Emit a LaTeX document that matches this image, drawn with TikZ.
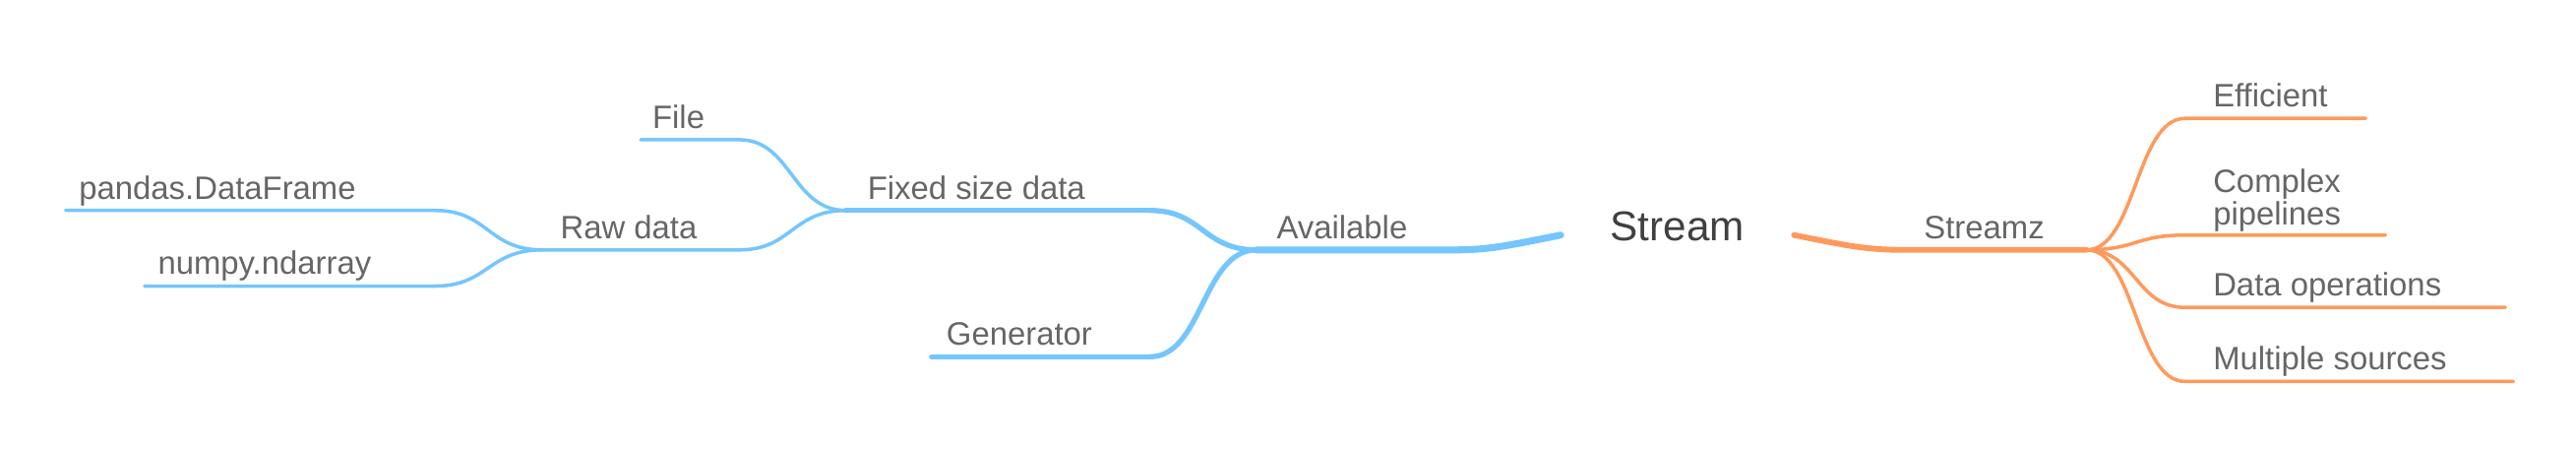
\documentclass[tikz,border=0pt]{standalone}
\usepackage{fontspec}
\setmainfont{Liberation Sans}
\definecolor{bl}{HTML}{74C6FE}
\definecolor{orn}{HTML}{FF9A5C}
\definecolor{txt}{HTML}{666666}
\begin{document}
\begin{tikzpicture}[x=0.05cm,y=-0.05cm,
  lbl/.style={anchor=base west,inner sep=0pt,text=txt,font=\fontsize{28}{32}\selectfont},
  bth/.style={draw=bl,line width=3pt,line cap=round},
  bmd/.style={draw=bl,line width=4.5pt,line cap=round},
  btk/.style={draw=bl,line width=6pt,line cap=round},
  oth/.style={draw=orn,line width=3pt,line cap=round},
  otk/.style={draw=orn,line width=5pt,line cap=round}]
\useasboundingbox (0,0) rectangle (1568,273);
\node[anchor=center,inner sep=0pt,text=black!75,font=\fontsize{36}{40}\selectfont] (stream) at (1021,138) {Stream};
% coordinates
\coordinate (sL) at (950,143); \coordinate (tk) at (885,152); \coordinate (av) at (765,152);
\coordinate (fsR) at (700,128); \coordinate (fs) at (515,128);
\coordinate (geR) at (700,217); \coordinate (geL) at (567,217);
\coordinate (fiR) at (450,85); \coordinate (fiL) at (390,85);
\coordinate (rdR) at (450,152); \coordinate (rd) at (330,152);
\coordinate (paR) at (265,128); \coordinate (paL) at (40,128);
\coordinate (nuR) at (265,174); \coordinate (nuL) at (88,174);
\coordinate (sR) at (1092,143); \coordinate (szL) at (1160,152); \coordinate (sz) at (1270,152);
\coordinate (efL) at (1330,72); \coordinate (efR) at (1440,72);
\coordinate (cpL) at (1330,143); \coordinate (cpR) at (1452,143);
\coordinate (doL) at (1330,187); \coordinate (doR) at (1525,187);
\coordinate (msL) at (1330,232); \coordinate (msR) at (1530,232);
% labels
\node[lbl] (lav) at (777,145) {Available};
\node[lbl] (lfs) at (528,121) {Fixed size data};
\node[lbl] (lge) at (576,210) {Generator};
\node[lbl] (lfi) at (397,78) {File};
\node[lbl] (lrd) at (341,145) {Raw data};
\node[lbl] (lpa) at (48,121) {pandas.DataFrame};
\node[lbl] (lnu) at (96,167) {numpy.ndarray};
\node[lbl] (lsz) at (1171,145) {Streamz};
\node[lbl] (lef) at (1347,65) {Efficient};
\node[lbl,align=left,anchor=south west] (lcp) at (1347,141) {Complex\\[-4pt]pipelines};
\node[lbl] (ldo) at (1347,180) {Data operations};
\node[lbl] (lms) at (1347,225) {Multiple sources};
% blue
\draw[btk] (sL) .. controls (915,150) and (905,152) .. (tk) -- (av);
\draw[bmd] (av) .. controls (732,152) and (732,128) .. (fsR);
\draw[bmd] (fsR) -- (fs);
\draw[bmd] (av) .. controls (732,152) and (732,217) .. (geR);
\draw[bmd] (geR) -- (geL);
\draw[bth] (fs) .. controls (482,128) and (482,85) .. (fiR) -- (fiL);
\draw[bth] (fs) .. controls (482,128) and (482,152) .. (rdR) -- (rd);
\draw[bth] (rd) .. controls (297,152) and (297,128) .. (paR) -- (paL);
\draw[bth] (rd) .. controls (297,152) and (297,174) .. (nuR) -- (nuL);
% orange
\draw[otk] (sR) .. controls (1127,150) and (1137,152) .. (szL) -- (sz);
\draw[oth] (sz) .. controls (1300,152) and (1300,72) .. (efL) -- (efR);
\draw[oth] (sz) .. controls (1300,152) and (1300,143) .. (cpL) -- (cpR);
\draw[oth] (sz) .. controls (1300,152) and (1300,187) .. (doL) -- (doR);
\draw[oth] (sz) .. controls (1300,152) and (1300,232) .. (msL) -- (msR);
\end{tikzpicture}
\end{document}
